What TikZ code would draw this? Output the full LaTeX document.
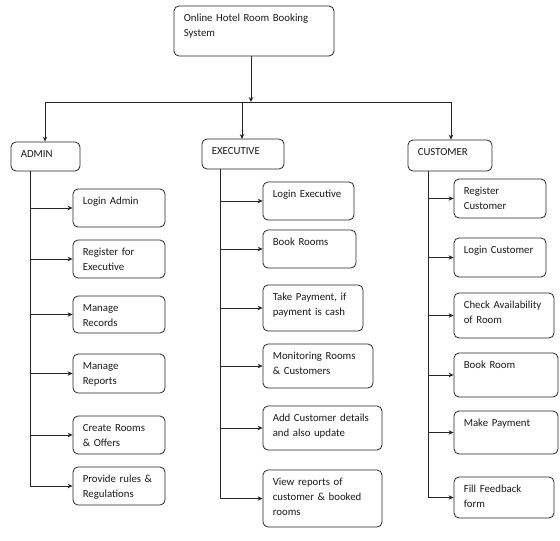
\documentclass[tikz,border=0pt]{standalone}
\usepackage{fontspec}
\setmainfont{Carlito}
\usetikzlibrary{arrows.meta,fit}
\tikzset{
  box/.style={draw=black!85, line width=0.8pt, rounded corners=5pt, inner sep=0pt},
  lbl/.style={inner sep=0pt, text width=140pt, align=left, anchor=base west,
              font=\fontsize{10.8}{15}\selectfont, text=black!90},
  con/.style={draw=black!85, line width=0.8pt},
  arr/.style={con, -{Stealth[length=5pt,width=4.5pt]}}
}
\newcommand\bx[6]{%
  \node[box, fit={(#2,#3) (#4,#5)}] (#1) {};
  \node[lbl] (#1-t) at ([xshift=10pt,yshift=-15.5pt]#1.north west) {#6};
}
\begin{document}
\begin{tikzpicture}[x=1pt,y=-1pt]
\useasboundingbox (0,0) rectangle (560,541);
% top
\bx{top}{174}{6}{334}{56}{Online Hotel Room Booking\\System}
% categories
\bx{adm}{11}{142}{80}{171}{ADMIN}
\bx{exe}{202}{139}{284}{169}{EXECUTIVE}
\bx{cus}{408}{140}{492}{171}{CUSTOMER}
% admin children
\bx{a1}{73}{189}{165}{227}{Login Admin}
\bx{a2}{73}{240}{165}{278}{Register for\\Executive}
\bx{a3}{73}{296}{165}{333}{Manage\\Records}
\bx{a4}{73}{354}{165}{393}{Manage\\Reports}
\bx{a5}{73}{416}{165}{454}{Create Rooms\\\& Offers}
\bx{a6}{73}{467}{165}{505}{Provide rules \&\\Regulations}
% executive children
\bx{e1}{263}{182}{354}{220}{Login Executive}
\bx{e2}{263}{230}{356}{268}{Book Rooms}
\bx{e3}{263}{285}{363}{331}{Take Payment, if\\payment is cash}
\bx{e4}{263}{344}{373}{388}{Monitoring Rooms\\\& Customers}
\bx{e5}{263}{406}{382}{450}{Add Customer details\\and also update}
\bx{e6}{263}{470}{382}{527}{View reports of\\customer \& booked\\rooms}
% customer children
\bx{c1}{454}{179}{546}{218}{Register\\Customer}
\bx{c2}{454}{238}{546}{277}{Login Customer}
\bx{c3}{454}{293}{554}{338}{Check Availability\\of Room}
\bx{c4}{454}{353}{558}{397}{Book Room}
\bx{c5}{454}{411}{558}{454}{Make Payment}
\bx{c6}{454}{477}{554}{518}{Fill Feedback\\form}
% main connectors
\coordinate (hl) at (45,102);
\coordinate (hr) at (451,102);
\coordinate (tb) at (251,56);
\draw[arr] (tb) -- (tb |- hl);
\draw[con] (hl) -- (hr);
\draw[arr] (hl) -- (hl |- adm.north);
\draw[arr] (242,102) -- (242,139) coordinate (exetop);
\draw[arr] (hr) -- (hr |- cus.north);
% trunks
\coordinate (at) at (30,171);
\coordinate (et) at (220,169);
\coordinate (ct) at (428,171);
\draw[con] (at) -- (at |- a6.west);
\draw[con] (et) -- (et |- e6.west);
\draw[con] (ct) -- (ct |- c6.west);
\foreach \n in {a1,a2,a3,a4,a5,a6}{\draw[arr] (at |- \n.west) -- (\n.west);}
\foreach \n in {e1,e2,e3,e4,e5,e6}{\draw[arr] (et |- \n.west) -- (\n.west);}
\foreach \n in {c1,c2,c3,c4,c5,c6}{\draw[arr] (ct |- \n.west) -- (\n.west);}
\end{tikzpicture}
\end{document}
